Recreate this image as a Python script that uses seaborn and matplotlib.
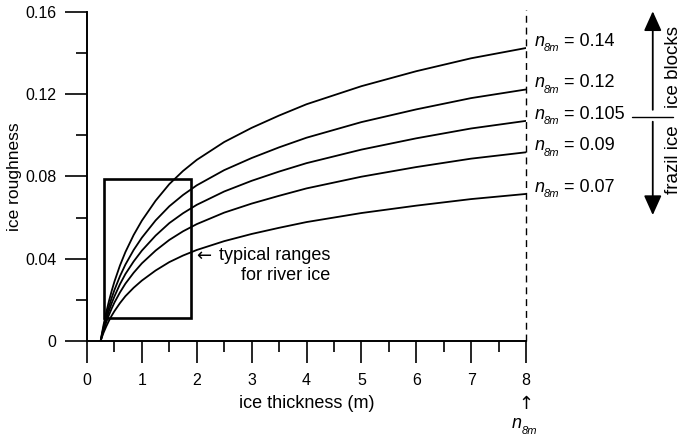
import matplotlib
matplotlib.use("Agg")

import matplotlib.pyplot as plt
import numpy as np
import pandas as pd
import seaborn as sns
from matplotlib.patches import Rectangle


# ice thickness (m) where the curves were read
thickness = [0.25, 0.27, 0.3, 0.35, 0.4, 0.45, 0.5, 0.6, 0.7, 0.85, 1.0, 1.25, 1.5, 1.75,
             2.0, 2.5, 3.0, 3.5, 4.0, 5.0, 6.0, 7.0, 8.0]

# ice roughness
rough_014 = [0.0, 0.0032, 0.0075, 0.0138, 0.0193, 0.0243, 0.0288, 0.0366, 0.0432, 0.0515,
             0.0585, 0.0682, 0.0763, 0.0827, 0.0881, 0.0968, 0.1037, 0.1097, 0.1152, 0.1240,
             0.1313, 0.1376, 0.1426]
rough_012 = [0.0, 0.0027, 0.0064, 0.0119, 0.0166, 0.0209, 0.0247, 0.0314, 0.0371, 0.0442,
             0.0502, 0.0586, 0.0655, 0.0710, 0.0757, 0.0831, 0.0890, 0.0942, 0.0989, 0.1065,
             0.1127, 0.1182, 0.1224]
rough_0105 = [0.0, 0.0024, 0.0056, 0.0104, 0.0145, 0.0183, 0.0216, 0.0275, 0.0325, 0.0386,
              0.0439, 0.0512, 0.0573, 0.0621, 0.0662, 0.0727, 0.0779, 0.0824, 0.0865, 0.0931,
              0.0986, 0.1034, 0.1071]
rough_009 = [0.0, 0.0020, 0.0048, 0.0089, 0.0125, 0.0157, 0.0186, 0.0235, 0.0278, 0.0331,
             0.0377, 0.0439, 0.0491, 0.0533, 0.0568, 0.0624, 0.0668, 0.0706, 0.0742, 0.0799,
             0.0846, 0.0887, 0.0918]
rough_007 = [0.0, 0.0016, 0.0038, 0.0069, 0.0097, 0.0122, 0.0144, 0.0183, 0.0217, 0.0258,
             0.0293, 0.0342, 0.0383, 0.0415, 0.0442, 0.0485, 0.0520, 0.0550, 0.0578, 0.0622,
             0.0658, 0.0690, 0.0715]

n8m_labels = ["0.14", "0.12", "0.105", "0.09", "0.07"]
curves = [rough_014, rough_012, rough_0105, rough_009, rough_007]

# typical range box for river ice: thickness and roughness limits
box_thickness = [0.31, 1.9]
box_roughness = [0.011, 0.079]

xtick_values = [0, 1, 2, 3, 4, 5, 6, 7, 8]
xtick_labels = ["0", "1", "2", "3", "4", "5", "6", "7", "8"]
ytick_values = [0, 0.04, 0.08, 0.12, 0.16]
ytick_labels = ["0", "0.04", "0.08", "0.12", "0.16"]

ARROW_FONT = ["DejaVu Sans"]


def n8m_symbol(ax, xy, dx, dy, size=13):
    """Draw an italic n with a small, low 8m subscript at an offset from xy (points)."""
    ax.annotate("n", xy=xy, xytext=(dx, dy), textcoords="offset points", ha="left",
                va="baseline", fontsize=size, fontstyle="italic", color="black",
                annotation_clip=False)
    ax.annotate("8m", xy=xy, xytext=(dx + 6.8, dy - 4.0), textcoords="offset points",
                ha="left", va="baseline", fontsize=size * 0.62, fontstyle="italic",
                color="black", annotation_clip=False)


sns.set_theme(style="ticks")
plt.rcParams["font.family"] = ["Liberation Sans", "DejaVu Sans"]

df = pd.concat(
    [pd.DataFrame({"thickness": thickness, "roughness": r, "n8m": lab})
     for r, lab in zip(curves, n8m_labels)],
    ignore_index=True,
)

fig = plt.figure(figsize=(6.85, 4.38), dpi=100)
ax = fig.add_axes([87 / 685, 97.3 / 438, 439 / 685, 328.4 / 438])

sns.lineplot(data=df, x="thickness", y="roughness", hue="n8m", palette=["black"] * 5,
             estimator=None, sort=False, legend=False, linewidth=1.3, ax=ax)

ax.add_patch(Rectangle((box_thickness[0], box_roughness[0]),
                       box_thickness[1] - box_thickness[0],
                       box_roughness[1] - box_roughness[0],
                       fill=False, edgecolor="black", linewidth=1.9))

ax.set_xlim(0, 8)
ax.set_ylim(0, 0.16)
for side in ["top", "right"]:
    ax.spines[side].set_visible(False)
for side in ["left", "bottom"]:
    ax.spines[side].set_linewidth(1.4)
    ax.spines[side].set_color("black")

ax.set_xticks(xtick_values)
ax.set_xticklabels(xtick_labels)
ax.set_xticks(np.arange(0.5, 8, 1.0), minor=True)
ax.set_yticks(ytick_values)
ax.set_yticklabels(ytick_labels)
ax.set_yticks(np.arange(0.02, 0.16, 0.04), minor=True)
ax.tick_params(which="major", direction="out", length=16, width=1.2, color="black",
               labelsize=11.5, labelcolor="black")
ax.tick_params(which="minor", direction="out", length=8, width=1.2, color="black")
ax.tick_params(axis="x", which="major", pad=7)
ax.tick_params(axis="y", which="major", pad=6)

ax.set_xlabel("ice thickness (m)", fontsize=13, color="black")
ax.set_ylabel("ice roughness", fontsize=12.5, color="black")
ax.xaxis.set_label_coords(0.5, -0.165)
ax.yaxis.set_label_coords(-0.148, 0.5)

# dashed reference line at 8 m
ax.plot([8, 8], [0, 0.161], color="black", linewidth=1.0, dashes=(5, 3.5), clip_on=False)

# curve labels at the right end
for r, lab in zip(curves, n8m_labels):
    n8m_symbol(ax, (8, r[-1]), 6, 1.5)
    ax.annotate("= " + lab, xy=(8, r[-1]), xytext=(27, 1.5), textcoords="offset points",
                ha="left", va="baseline", fontsize=13, color="black",
                annotation_clip=False)

# ice blocks / frazil ice key
ax.plot([9.93, 10.68], [0.1091, 0.1091], color="black", linewidth=1.0, clip_on=False)
arrow_style = dict(arrowstyle="-|>,head_length=1.0,head_width=0.45", color="black",
                   linewidth=1.3, shrinkA=0, shrinkB=0)
ax.annotate("", xy=(10.31, 0.1605), xytext=(10.31, 0.1125), arrowprops=arrow_style,
            annotation_clip=False)
ax.annotate("", xy=(10.31, 0.0612), xytext=(10.31, 0.1067), arrowprops=arrow_style,
            annotation_clip=False)
ax.text(10.68, 0.1335, "ice blocks", rotation=90, ha="center", va="center", fontsize=13.5,
        color="black", clip_on=False)
ax.text(10.68, 0.0881, "frazil ice", rotation=90, ha="center", va="center", fontsize=13.5,
        color="black", clip_on=False)

# typical range note
ax.text(1.98, 0.0413, "←", ha="left", va="center", fontsize=13, color="black",
        family=ARROW_FONT)
ax.text(2.40, 0.0413, "typical ranges", ha="left", va="center", fontsize=13, color="black")
ax.text(4.43, 0.0316, "for river ice", ha="right", va="center", fontsize=13, color="black")

# n8m marker under the axis
ax.text(8, -0.0309, "↑", ha="center", va="center", fontsize=13, color="black",
        family=ARROW_FONT, clip_on=False)
n8m_symbol(ax, (8, -0.0427), -10, 0)

fig.savefig("out.png", dpi=100, facecolor="white")
plt.close(fig)
